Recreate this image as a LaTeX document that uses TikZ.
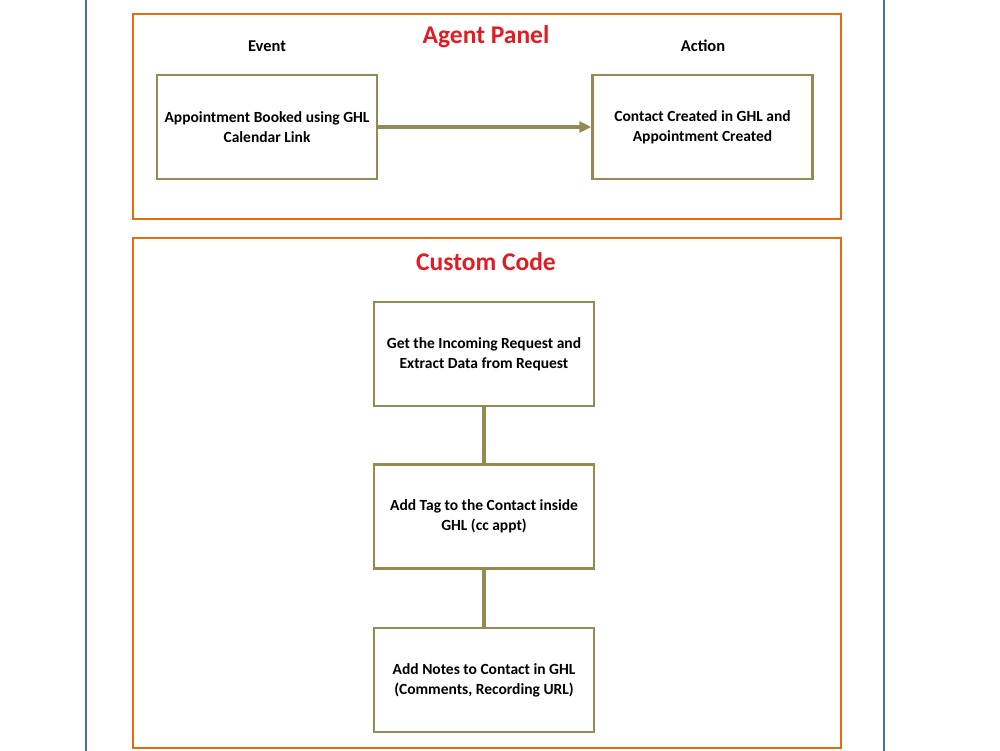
\documentclass[tikz,border=0pt]{standalone}
\usepackage{fontspec}
\setmainfont{Carlito}
\usepackage{tikz}
\usetikzlibrary{arrows.meta,positioning}
\definecolor{frame}{HTML}{4A6DA6}
\definecolor{panel}{HTML}{E46C0A}
\definecolor{olive}{HTML}{948A54}
\definecolor{title}{HTML}{E31B23}

\begin{document}
\begin{tikzpicture}[
    x=1pt, y=-1pt,
    panelbox/.style={draw=panel, line width=2.5pt, minimum width=708pt},
    stepbox/.style={draw=olive, line width=2.5pt, fill=white,
                    minimum width=220pt, minimum height=104pt, align=center,
                    font=\bfseries\fontsize{15.5}{20}\selectfont},
    head/.style={font=\bfseries\fontsize{16.5}{19}\selectfont},
    ptitle/.style={text=title, font=\bfseries\fontsize{25.5}{29}\selectfont},
    arrow/.style={-{Triangle[length=12pt, width=11pt]}, line width=4pt, color=olive},
    link/.style={line width=3.5pt, color=olive},
]
    \useasboundingbox (0,0) rectangle (1000,750);

    % outer frame, open at top and bottom
    \draw[frame, line width=2pt] (86,-5) -- (86,755);
    \draw[frame, line width=2pt] (884,-5) -- (884,755);

    % panels
    \node[panelbox, minimum height=205pt] (agent)  at (487,116.5) {};
    \node[panelbox, minimum height=510pt] (custom) at (487,493) {};
    \node[ptitle] (agentT)  at (486,37)  {Agent Panel};
    \node[ptitle] (customT) at (486,262) {Custom Code};

    % agent panel
    \node[stepbox] (booked) at (267,127) {Appointment Booked using GHL\\Calendar Link};
    \node[stepbox, right=213pt of booked] (created) {Contact Created in GHL and\\Appointment Created};
    \node[head] (event)  at (267,46) {Event};
    \node[head] (action) at (703,46) {Action};

    % custom code
    \node[stepbox] (request) at (484,354) {Get the Incoming Request and\\Extract Data from Request};
    \node[stepbox, below=56pt of request] (tag)   {Add Tag to the Contact inside\\GHL (cc appt)};
    \node[stepbox, below=57pt of tag]     (notes) {Add Notes to Contact in GHL\\(Comments, Recording URL)};

    \draw[arrow] (booked) -- (created);
    \draw[link]  (request) -- (tag);
    \draw[link]  (tag) -- (notes);
\end{tikzpicture}
\end{document}
